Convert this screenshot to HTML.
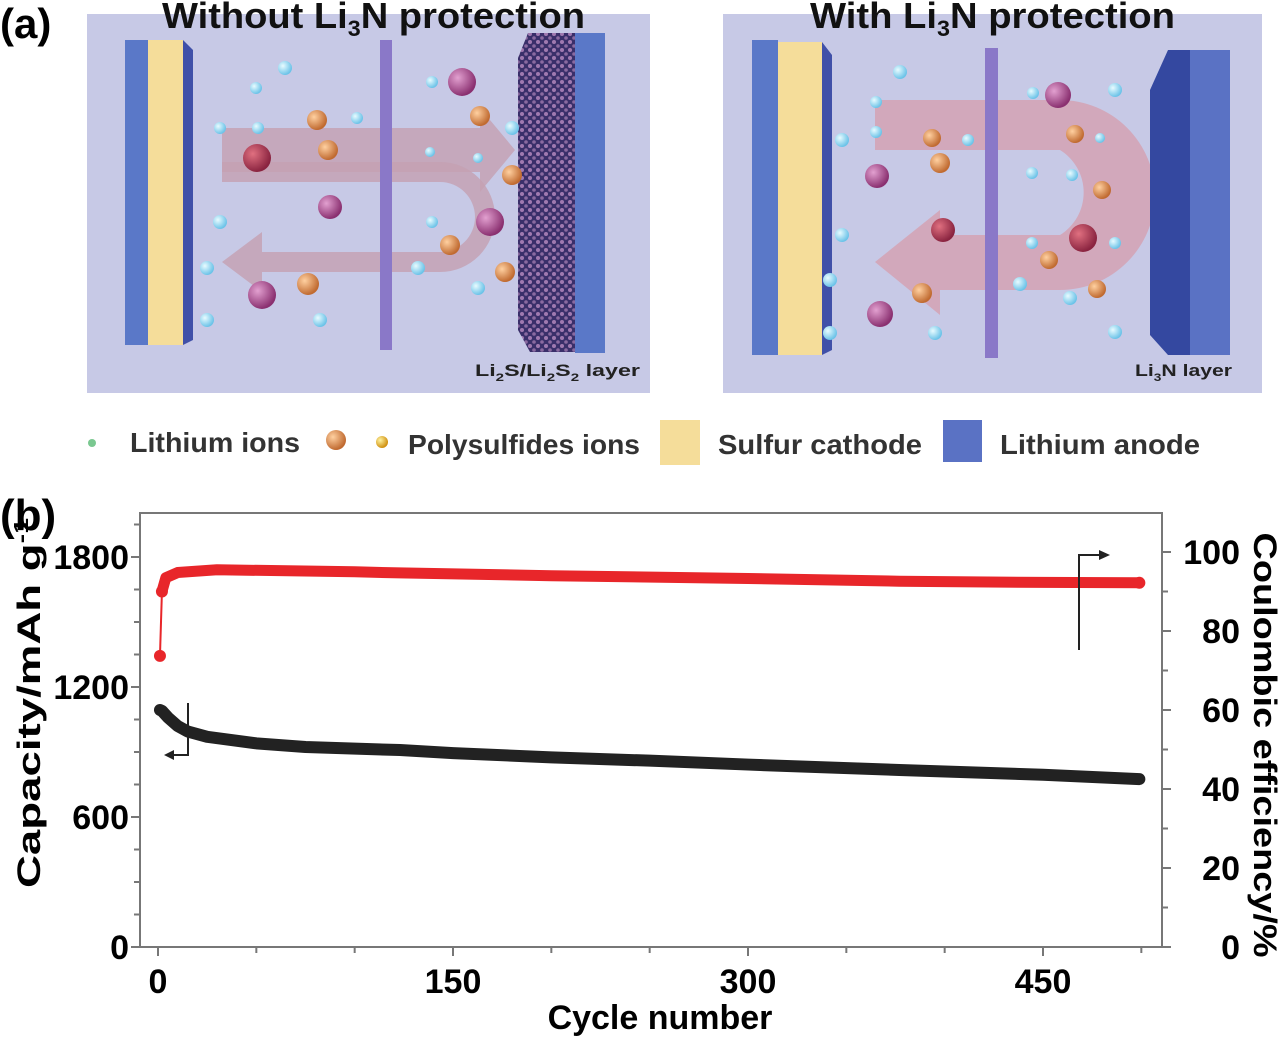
<!DOCTYPE html>
<html><head><meta charset="utf-8"><style>
html,body{margin:0;padding:0;background:#fff;}
svg{display:block;font-family:"Liberation Sans",Arial,sans-serif;}
</style></head><body>
<svg id="fig" width="1280" height="1039" viewBox="0 0 1280 1039" xmlns="http://www.w3.org/2000/svg">
<defs>
<radialGradient id="gLi" cx="35%" cy="35%" r="65%"><stop offset="0" stop-color="#e8fbff"/><stop offset="1" stop-color="#6cc3e8"/></radialGradient>
<radialGradient id="gPu" cx="35%" cy="35%" r="65%"><stop offset="0" stop-color="#e2a0d0"/><stop offset="1" stop-color="#8a3070"/></radialGradient>
<radialGradient id="gOr" cx="35%" cy="35%" r="65%"><stop offset="0" stop-color="#ffd0a0"/><stop offset="1" stop-color="#c06a30"/></radialGradient>
<radialGradient id="gRd" cx="35%" cy="35%" r="65%"><stop offset="0" stop-color="#e07080"/><stop offset="1" stop-color="#8a2440"/></radialGradient>
<radialGradient id="gYe" cx="35%" cy="35%" r="65%"><stop offset="0" stop-color="#fff3a0"/><stop offset="1" stop-color="#d09010"/></radialGradient>
<pattern id="tex" width="8" height="8" patternUnits="userSpaceOnUse"><rect width="8" height="8" fill="#3a2f6a"/><circle cx="2" cy="2" r="2" fill="#a07ab0"/><circle cx="6" cy="6" r="1.8" fill="#8a6aa0"/></pattern>
</defs>

<!-- Panel (a) -->
<text x="0" y="38" font-size="42" font-weight="bold">(a)</text>

<g>
<rect x="87" y="14" width="563" height="379" fill="#c7c9e6"/>
<path d="M222,128 H480 L480,108 L515,150 L480,192 L480,172 H222 Z" fill="#c4a0b2" opacity="0.8"/>
<path d="M222,162 H440 A55,55 0 0 1 440,272 H262 L262,292 L222,262 L262,232 L262,252 H440 A35,35 0 0 0 440,182 H222 Z" fill="#c4a0b2" opacity="0.8"/>
<rect x="125" y="40" width="23" height="305" fill="#5a78c8"/>
<rect x="148" y="40" width="35" height="305" fill="#f5dd9a"/>
<polygon points="183,40 193,50 193,340 183,345" fill="#4050a8"/>
<rect x="380" y="40" width="12" height="310" fill="#8a78c8"/>
<polygon points="518,58 528,33 575,33 575,352 530,352 518,330" fill="url(#tex)"/>
<rect x="575" y="33" width="30" height="320" fill="#5a78c8"/>
<g>
<circle cx="256" cy="88" r="6" fill="url(#gLi)"/><circle cx="285" cy="68" r="7" fill="url(#gLi)"/><circle cx="220" cy="128" r="6" fill="url(#gLi)"/><circle cx="258" cy="128" r="6" fill="url(#gLi)"/><circle cx="357" cy="118" r="6" fill="url(#gLi)"/><circle cx="220" cy="222" r="7" fill="url(#gLi)"/><circle cx="207" cy="268" r="7" fill="url(#gLi)"/><circle cx="207" cy="320" r="7" fill="url(#gLi)"/><circle cx="320" cy="320" r="7" fill="url(#gLi)"/><circle cx="432" cy="82" r="6" fill="url(#gLi)"/><circle cx="512" cy="128" r="7" fill="url(#gLi)"/><circle cx="432" cy="222" r="6" fill="url(#gLi)"/><circle cx="418" cy="268" r="7" fill="url(#gLi)"/><circle cx="478" cy="288" r="7" fill="url(#gLi)"/><circle cx="430" cy="152" r="5" fill="url(#gLi)"/><circle cx="478" cy="158" r="5" fill="url(#gLi)"/>
<circle cx="462" cy="82" r="14" fill="url(#gPu)"/><circle cx="257" cy="158" r="14" fill="url(#gRd)"/><circle cx="330" cy="207" r="12" fill="url(#gPu)"/><circle cx="490" cy="222" r="14" fill="url(#gPu)"/><circle cx="262" cy="295" r="14" fill="url(#gPu)"/>
<circle cx="317" cy="120" r="10" fill="url(#gOr)"/><circle cx="328" cy="150" r="10" fill="url(#gOr)"/><circle cx="480" cy="116" r="10" fill="url(#gOr)"/><circle cx="512" cy="175" r="10" fill="url(#gOr)"/><circle cx="450" cy="245" r="10" fill="url(#gOr)"/><circle cx="308" cy="284" r="11" fill="url(#gOr)"/><circle cx="505" cy="272" r="10" fill="url(#gOr)"/>
</g>
<text x="475" y="376" font-size="17" font-weight="bold" fill="#222" textLength="165" lengthAdjust="spacingAndGlyphs">Li<tspan font-size="11" dy="5">2</tspan><tspan dy="-5">S/Li</tspan><tspan font-size="11" dy="5">2</tspan><tspan dy="-5">S</tspan><tspan font-size="11" dy="5">2</tspan><tspan dy="-5"> layer</tspan></text>
<text x="162" y="28" font-size="36" font-weight="bold" fill="#111" textLength="423" lengthAdjust="spacingAndGlyphs">Without Li<tspan font-size="22" dy="8">3</tspan><tspan dy="-8">N protection</tspan></text>
</g>

<g>
<rect x="723" y="14" width="539" height="379" fill="#c7c9e6"/>
<path d="M875,100 H1060 A90,90 0 0 1 1060,290 H940 L940,315 L875,262 L940,210 L940,235 H1060 A50,50 0 0 0 1060,150 H875 Z" fill="#d4a0b0" opacity="0.8"/>
<rect x="752" y="40" width="26" height="315" fill="#5a78c8"/>
<rect x="778" y="42" width="44" height="313" fill="#f5dd9a"/>
<polygon points="822,42 832,55 832,350 822,355" fill="#4050a8"/>
<rect x="985" y="48" width="13" height="310" fill="#8a78c8"/>
<polygon points="1150,90 1168,50 1190,50 1190,355 1168,355 1150,335" fill="#3448a0"/>
<rect x="1190" y="50" width="40" height="305" fill="#5a72c4"/>
<g>
<circle cx="900" cy="72" r="7" fill="url(#gLi)"/><circle cx="876" cy="102" r="6" fill="url(#gLi)"/><circle cx="842" cy="140" r="7" fill="url(#gLi)"/><circle cx="876" cy="132" r="6" fill="url(#gLi)"/><circle cx="968" cy="140" r="6" fill="url(#gLi)"/><circle cx="842" cy="235" r="7" fill="url(#gLi)"/><circle cx="830" cy="280" r="7" fill="url(#gLi)"/><circle cx="830" cy="333" r="7" fill="url(#gLi)"/><circle cx="935" cy="333" r="7" fill="url(#gLi)"/><circle cx="1033" cy="93" r="6" fill="url(#gLi)"/><circle cx="1115" cy="90" r="7" fill="url(#gLi)"/><circle cx="1032" cy="173" r="6" fill="url(#gLi)"/><circle cx="1072" cy="175" r="6" fill="url(#gLi)"/><circle cx="1032" cy="243" r="6" fill="url(#gLi)"/><circle cx="1115" cy="243" r="6" fill="url(#gLi)"/><circle cx="1020" cy="284" r="7" fill="url(#gLi)"/><circle cx="1070" cy="298" r="7" fill="url(#gLi)"/><circle cx="1115" cy="332" r="7" fill="url(#gLi)"/><circle cx="1100" cy="138" r="5" fill="url(#gLi)"/>
<circle cx="1058" cy="95" r="13" fill="url(#gPu)"/><circle cx="877" cy="176" r="12" fill="url(#gPu)"/><circle cx="943" cy="230" r="12" fill="url(#gRd)"/><circle cx="1083" cy="238" r="14" fill="url(#gRd)"/><circle cx="880" cy="314" r="13" fill="url(#gPu)"/>
<circle cx="932" cy="138" r="9" fill="url(#gOr)"/><circle cx="940" cy="163" r="10" fill="url(#gOr)"/><circle cx="1075" cy="134" r="9" fill="url(#gOr)"/><circle cx="1102" cy="190" r="9" fill="url(#gOr)"/><circle cx="1049" cy="260" r="9" fill="url(#gOr)"/><circle cx="922" cy="293" r="10" fill="url(#gOr)"/><circle cx="1097" cy="289" r="9" fill="url(#gOr)"/>
</g>
<text x="1135" y="376" font-size="17" font-weight="bold" fill="#222" textLength="97" lengthAdjust="spacingAndGlyphs">Li<tspan font-size="11" dy="5">3</tspan><tspan dy="-5">N layer</tspan></text>
<text x="810" y="28" font-size="36" font-weight="bold" fill="#111" textLength="365" lengthAdjust="spacingAndGlyphs">With Li<tspan font-size="22" dy="8">3</tspan><tspan dy="-8">N protection</tspan></text>
</g>

<g>
<circle cx="92" cy="443" r="4" fill="#7ac890"/>
<text x="130" y="452" font-size="28" font-weight="bold" fill="#333" textLength="170" lengthAdjust="spacingAndGlyphs">Lithium ions</text>
<circle cx="336" cy="440" r="10" fill="url(#gOr)"/>
<circle cx="382" cy="442" r="6" fill="url(#gYe)"/>
<text x="408" y="454" font-size="28" font-weight="bold" fill="#333" textLength="232" lengthAdjust="spacingAndGlyphs">Polysulfides ions</text>
<rect x="660" y="420" width="40" height="45" fill="#f5dd9a"/>
<text x="718" y="454" font-size="28" font-weight="bold" fill="#333" textLength="204" lengthAdjust="spacingAndGlyphs">Sulfur cathode</text>
<rect x="943" y="420" width="39" height="42" fill="#5a72c4"/>
<text x="1000" y="454" font-size="28" font-weight="bold" fill="#333" textLength="200" lengthAdjust="spacingAndGlyphs">Lithium anode</text>
</g>

<!-- Panel (b) -->
<text x="0" y="530" font-size="44" font-weight="bold">(b)</text>
<g id="chart"></g>
</svg>
<script>
const capCycles = [1, 2, 5, 10, 15, 25, 50, 75, 123, 150, 200, 250, 300, 377, 450, 499];
const capValues = [1094, 1090, 1060, 1020, 995, 970, 940, 923, 909, 895, 875, 860, 842, 817, 795, 775];
const ceCycles = [1, 2, 4, 10, 30, 100, 123, 200, 300, 377, 450, 499];
const ceValues = [73.7, 90, 93.5, 94.8, 95.5, 95, 94.7, 94, 93.3, 92.6, 92.3, 92.2];
const xTicks = [0, 150, 300, 450];
const yLeftTicks = [0, 600, 1200, 1800];
const yRightTicks = [0, 20, 40, 60, 80, 100];

const NS = 'http://www.w3.org/2000/svg';
const g = document.getElementById('chart');
const L = 140, R = 1162, T = 513, B = 947;
const sx = c => 158 + c * (885 / 450);
const syL = v => 947 - v * (390 / 1800);
const syR = v => 947 - v * (395 / 100);
function mk(tag, attrs, parent) {
  const e = document.createElementNS(NS, tag);
  for (const k in attrs) e.setAttribute(k, attrs[k]);
  (parent || g).appendChild(e);
  return e;
}
const frame = mk('rect', {x: L, y: T, width: R - L, height: B - T, fill: 'none', stroke: '#777', 'stroke-width': 2});



for (let c = 0; c <= 500; c += 50) {
  const major = c % 150 === 0;
  const t = mk('line', {x1: sx(c), x2: sx(c), y1: B, y2: B + (major ? 9 : 6), stroke: '#777', 'stroke-width': 2});
  
  
}
xTicks.forEach(c => {
  const t = mk('text', {x: sx(c), y: 993, 'text-anchor': 'middle', 'font-size': 34, 'font-weight': 'bold'});
  t.textContent = c;
  
  
});
for (let v = 0; v <= 1950; v += 150) {
  if (syL(v) < T) break;
  const t = mk('line', {x1: L - (v % 600 === 0 ? 9 : 6), x2: L, y1: syL(v), y2: syL(v), stroke: '#777', 'stroke-width': 2});
  
  
}
yLeftTicks.forEach(v => {
  const t = mk('text', {x: 129, y: syL(v) + 12, 'text-anchor': 'end', 'font-size': 34, 'font-weight': 'bold'});
  t.textContent = v;
  
  
});
for (let v = 0; v <= 100; v += 10) {
  const t = mk('line', {x1: R, x2: R + (v % 20 === 0 ? 9 : 6), y1: syR(v), y2: syR(v), stroke: '#777', 'stroke-width': 2});
  
  
}
yRightTicks.forEach(v => {
  const t = mk('text', {x: 1240, y: syR(v) + 12, 'text-anchor': 'end', 'font-size': 34, 'font-weight': 'bold'});
  t.textContent = v;
  
  
});
const xt = mk('text', {x: 660, y: 1029, 'text-anchor': 'middle', 'font-size': 34, 'font-weight': 'bold'});
xt.textContent = 'Cycle number';


const yl = mk('text', {x: 0, y: 0, transform: 'translate(40,703) rotate(-90)', 'text-anchor': 'middle', 'font-size': 32, 'font-weight': 'bold', textLength: 370, lengthAdjust: 'spacingAndGlyphs'});
yl.innerHTML = 'Capacity/mAh g<tspan font-size="20" dy="-12">-1</tspan>';


const yr = mk('text', {x: 0, y: 0, transform: 'translate(1254,745) rotate(90)', 'text-anchor': 'middle', 'font-size': 32, 'font-weight': 'bold', textLength: 425, lengthAdjust: 'spacingAndGlyphs'});
yr.textContent = 'Coulombic efficiency/%';



// CE series
const ceLine = mk('polyline', {points: ceCycles.slice(1).map((c, i) => sx(c) + ',' + syR(ceValues[i + 1])).join(' '), fill: 'none', stroke: '#e8262a', 'stroke-width': 11, 'stroke-linecap': 'round', 'stroke-linejoin': 'round'});


const ceJoin = mk('line', {x1: sx(ceCycles[0]), y1: syR(ceValues[0]), x2: sx(ceCycles[1]), y2: syR(ceValues[1]), stroke: '#e8262a', 'stroke-width': 2});


[0, 1].forEach(i => {
  const p = mk('circle', {cx: sx(ceCycles[i]), cy: syR(ceValues[i]), r: 6, fill: '#e8262a'});
  
  
});
const ceEnd = mk('circle', {cx: sx(ceCycles[ceCycles.length - 1]), cy: syR(ceValues[ceValues.length - 1]), r: 6, fill: '#e8262a'});



// Capacity series
const capLine = mk('polyline', {points: capCycles.map((c, i) => sx(c) + ',' + syL(capValues[i])).join(' '), fill: 'none', stroke: '#222', 'stroke-width': 12, 'stroke-linecap': 'round', 'stroke-linejoin': 'round'});



// Axis indicator arrows
const a1 = mk('path', {d: 'M188,703 V755 H172', fill: 'none', stroke: '#222', 'stroke-width': 2});


const a1h = mk('polygon', {points: '164,755 174,750 174,760', fill: '#222'});


const a2 = mk('path', {d: 'M1079,650 V555 H1100', fill: 'none', stroke: '#222', 'stroke-width': 2});


const a2h = mk('polygon', {points: '1110,555 1099,550 1099,560', fill: '#222'});


</script>
</body></html>
